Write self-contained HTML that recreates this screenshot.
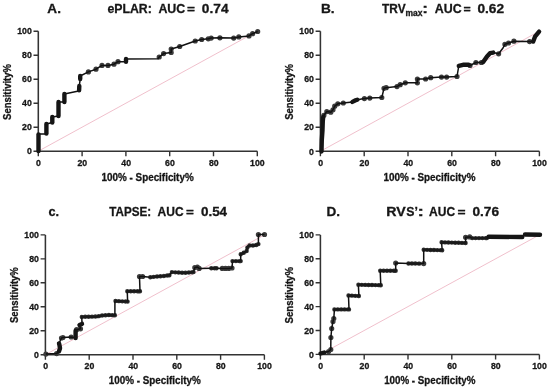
<!DOCTYPE html>
<html><head><meta charset="utf-8"><style>
html,body{margin:0;padding:0;background:#fff;width:550px;height:390px;overflow:hidden}
svg{display:block;filter:blur(0.45px)}
text{font-family:"Liberation Sans",sans-serif;font-weight:bold;fill:#161616;stroke:#161616;stroke-width:0.3px}
</style></head><body>
<svg width="550" height="390" viewBox="0 0 550 390">
<rect width="550" height="390" fill="#fff"/>

<line x1="38.3" y1="151.2" x2="257.3" y2="31.2" stroke="#eeb9c6" stroke-width="0.9"/>
<path d="M38.3 31.2 V151.2 H257.3" fill="none" stroke="#333" stroke-width="1.55"/>
<path d="M33.5 151.2 H38.3 M38.3 151.2 V156.2 M33.5 127.2 H38.3 M82.1 151.2 V156.2 M33.5 103.2 H38.3 M125.9 151.2 V156.2 M33.5 79.2 H38.3 M169.7 151.2 V156.2 M33.5 55.2 H38.3 M213.5 151.2 V156.2 M33.5 31.2 H38.3 M257.3 151.2 V156.2" fill="none" stroke="#333" stroke-width="1.4"/>
<text style="font-size:9px" transform="translate(26.9 154.4) scale(0.97 1)">0</text>
<text style="font-size:9px" transform="translate(36.07 165.8) scale(0.97 1)">0</text>
<text style="font-size:9px" transform="translate(22.05 130.4) scale(0.97 1)">20</text>
<text style="font-size:9px" transform="translate(77.47 165.8) scale(0.97 1)">20</text>
<text style="font-size:9px" transform="translate(22.05 106.4) scale(0.97 1)">40</text>
<text style="font-size:9px" transform="translate(121.36 165.8) scale(0.97 1)">40</text>
<text style="font-size:9px" transform="translate(22.05 82.4) scale(0.97 1)">60</text>
<text style="font-size:9px" transform="translate(165.07 165.8) scale(0.97 1)">60</text>
<text style="font-size:9px" transform="translate(22.05 58.4) scale(0.97 1)">80</text>
<text style="font-size:9px" transform="translate(208.89 165.8) scale(0.97 1)">80</text>
<text style="font-size:9px" transform="translate(17.2 34.4) scale(0.97 1)">100</text>
<text style="font-size:9px" transform="translate(250.11 165.8) scale(0.97 1)">100</text>
<text style="font-size:10.4px" transform="translate(101.56 180.6) scale(0.95 1)">100% - Specificity%</text>
<text style="font-size:10.4px" transform="translate(11.1 119.88) rotate(-90) scale(0.91 1)">Sensitivity%</text>
<path d="M88.4 71.9h0M96 69.2h0M102 65.4h0M108 65.4h0M114 64.2h0M118 61.7h0M159.2 57h0M163.6 53.6h0M171.2 52.5h0M171.2 49h0M179.7 46.5h0M195.2 41h0M201.7 39.5h0M208.3 38.8h0M211.2 38.1h0M219.9 37.8h0M233.7 38.1h0M238.8 36.9h0M249 35.9h0M252.6 33.7h0M257.7 31.5h0" stroke="#3c3c3c" stroke-width="5.2" stroke-linecap="round" fill="none"/>
<path d="" stroke="#333" stroke-width="4.4" stroke-linecap="round" fill="none"/>
<polyline points="38.5,151 38.5,134.5 38.5,134 45.8,134 46.4,133.5 46.4,124 52.3,122.5 52.3,117 58.5,116 58.5,102 64.4,102 64.4,94 78.6,91 79.1,90.3 79.3,86 80.2,79 80.2,76 88.4,71.9 96,69.2 102,65.4 108,65.4 114,64.2 118,61.7 126,61.8 126,59 158.1,58.8 159.2,57 163.6,53.6 171.2,52.5 171.2,49 179.7,46.5 195.2,41 201.7,39.5 208.3,38.8 211.2,38.1 219.9,37.8 233.7,38.1 238.8,36.9 249,35.9 252.6,33.7 257.7,31.5" fill="none" stroke="#111" stroke-width="1.5" stroke-linejoin="round"/>
<polyline points="38.5,151 38.5,134.5" fill="none" stroke="#151515" stroke-width="4.4" stroke-linecap="round" stroke-linejoin="round"/>
<polyline points="46.4,133.5 46.4,124" fill="none" stroke="#151515" stroke-width="4.4" stroke-linecap="round" stroke-linejoin="round"/>
<polyline points="52.3,122.5 52.3,117" fill="none" stroke="#151515" stroke-width="4.4" stroke-linecap="round" stroke-linejoin="round"/>
<polyline points="58.5,116 58.5,102" fill="none" stroke="#151515" stroke-width="4.4" stroke-linecap="round" stroke-linejoin="round"/>
<polyline points="64.4,102 64.4,94" fill="none" stroke="#151515" stroke-width="4.4" stroke-linecap="round" stroke-linejoin="round"/>
<polyline points="79.1,90.3 79.3,86" fill="none" stroke="#151515" stroke-width="4.4" stroke-linecap="round" stroke-linejoin="round"/>
<polyline points="80.2,79 80.2,76" fill="none" stroke="#151515" stroke-width="4.4" stroke-linecap="round" stroke-linejoin="round"/>
<polyline points="126,61.8 126,59" fill="none" stroke="#151515" stroke-width="4.4" stroke-linecap="round" stroke-linejoin="round"/>
<line x1="320.4" y1="151.3" x2="539.4" y2="31.2" stroke="#eeb9c6" stroke-width="0.9"/>
<path d="M320.4 31.2 V151.3 H539.4" fill="none" stroke="#333" stroke-width="1.55"/>
<path d="M315.6 151.3 H320.4 M320.4 151.3 V156.3 M315.6 127.28 H320.4 M364.2 151.3 V156.3 M315.6 103.26 H320.4 M408 151.3 V156.3 M315.6 79.24 H320.4 M451.8 151.3 V156.3 M315.6 55.22 H320.4 M495.6 151.3 V156.3 M315.6 31.2 H320.4 M539.4 151.3 V156.3" fill="none" stroke="#333" stroke-width="1.4"/>
<text style="font-size:9px" transform="translate(309 154.5) scale(0.97 1)">0</text>
<text style="font-size:9px" transform="translate(318.17 165.9) scale(0.97 1)">0</text>
<text style="font-size:9px" transform="translate(304.15 130.48) scale(0.97 1)">20</text>
<text style="font-size:9px" transform="translate(359.57 165.9) scale(0.97 1)">20</text>
<text style="font-size:9px" transform="translate(304.15 106.46) scale(0.97 1)">40</text>
<text style="font-size:9px" transform="translate(403.46 165.9) scale(0.97 1)">40</text>
<text style="font-size:9px" transform="translate(304.15 82.44) scale(0.97 1)">60</text>
<text style="font-size:9px" transform="translate(447.17 165.9) scale(0.97 1)">60</text>
<text style="font-size:9px" transform="translate(304.15 58.42) scale(0.97 1)">80</text>
<text style="font-size:9px" transform="translate(490.99 165.9) scale(0.97 1)">80</text>
<text style="font-size:9px" transform="translate(299.3 34.4) scale(0.97 1)">100</text>
<text style="font-size:9px" transform="translate(532.21 165.9) scale(0.97 1)">100</text>
<text style="font-size:10.4px" transform="translate(383.45 180.8) scale(0.95 1)">100% - Specificity%</text>
<text style="font-size:10.4px" transform="translate(293.1 119.78) rotate(-90) scale(0.91 1)">Sensitivity%</text>
<path d="M323.9 115.3h0M326.8 111.6h0M330.8 112.2h0M333 109.8h0M334.7 106.2h0M337.8 103.8h0M343.3 103h0M364.4 98.6h0M369.8 98.1h0M381.8 97.5h0M384 88.3h0M386.2 87.7h0M397 86.6h0M400.2 84.7h0M405.3 82.8h0M417.4 82.8h0M417.4 79h0M425.6 79h0M430.7 77.7h0M441.5 77.1h0M446.6 77.1h0M457 76.5h0M470 65.5h0M475.9 62.5h0M481.4 62.5h0M498.6 53.8h0M504.9 44.3h0M508.5 43h0M513.9 41.2h0M529.6 41.6h0" stroke="#3c3c3c" stroke-width="5.2" stroke-linecap="round" fill="none"/>
<path d="" stroke="#333" stroke-width="4.4" stroke-linecap="round" fill="none"/>
<polyline points="321.5,151.5 321.8,140 322.5,130 322.8,121 323.2,117 323.9,115.3 326.8,111.6 330.8,112.2 333,109.8 334.7,106.2 337.8,103.8 343.3,103 352.4,101.9 355.6,100.3 357.3,99.7 364.4,98.6 369.8,98.1 381.8,97.5 384,88.3 386.2,87.7 397,86.6 400.2,84.7 405.3,82.8 417.4,82.8 417.4,79 425.6,79 430.7,77.7 441.5,77.1 446.6,77.1 457,76.5 458.6,67 458.8,65.9 463,64.8 468.6,64.8 470,65.5 475.9,62.5 481.4,62.5 483.2,62 487,56.5 490,53.2 493.2,52.6 498.6,53.8 503,48 504.9,44.3 508.5,43 513.9,41.2 529.6,41.6 533.2,41.6 535,36.7 539.1,31.7" fill="none" stroke="#111" stroke-width="1.5" stroke-linejoin="round"/>
<polyline points="321.5,151.5 321.8,140 322.5,130 322.8,121 323.2,117" fill="none" stroke="#151515" stroke-width="4.4" stroke-linecap="round" stroke-linejoin="round"/>
<polyline points="352.4,101.9 355.6,100.3 357.3,99.7" fill="none" stroke="#151515" stroke-width="4.4" stroke-linecap="round" stroke-linejoin="round"/>
<polyline points="458.8,65.9 463,64.8 468.6,64.8" fill="none" stroke="#151515" stroke-width="4.4" stroke-linecap="round" stroke-linejoin="round"/>
<polyline points="483.2,62 487,56.5 490,53.2 493.2,52.6" fill="none" stroke="#151515" stroke-width="4.4" stroke-linecap="round" stroke-linejoin="round"/>
<polyline points="533.2,41.6 535,36.7 539.1,31.7" fill="none" stroke="#151515" stroke-width="4.4" stroke-linecap="round" stroke-linejoin="round"/>
<line x1="45.4" y1="354.7" x2="264.4" y2="234.9" stroke="#eeb9c6" stroke-width="0.9"/>
<path d="M45.4 234.9 V354.7 H264.4" fill="none" stroke="#333" stroke-width="1.55"/>
<path d="M40.6 354.7 H45.4 M45.4 354.7 V359.7 M40.6 330.74 H45.4 M89.2 354.7 V359.7 M40.6 306.78 H45.4 M133 354.7 V359.7 M40.6 282.82 H45.4 M176.8 354.7 V359.7 M40.6 258.86 H45.4 M220.6 354.7 V359.7 M40.6 234.9 H45.4 M264.4 354.7 V359.7" fill="none" stroke="#333" stroke-width="1.4"/>
<text style="font-size:9px" transform="translate(34 357.9) scale(0.97 1)">0</text>
<text style="font-size:9px" transform="translate(43.17 369.3) scale(0.97 1)">0</text>
<text style="font-size:9px" transform="translate(29.15 333.94) scale(0.97 1)">20</text>
<text style="font-size:9px" transform="translate(84.57 369.3) scale(0.97 1)">20</text>
<text style="font-size:9px" transform="translate(29.15 309.98) scale(0.97 1)">40</text>
<text style="font-size:9px" transform="translate(128.46 369.3) scale(0.97 1)">40</text>
<text style="font-size:9px" transform="translate(29.15 286.02) scale(0.97 1)">60</text>
<text style="font-size:9px" transform="translate(172.17 369.3) scale(0.97 1)">60</text>
<text style="font-size:9px" transform="translate(29.15 262.06) scale(0.97 1)">80</text>
<text style="font-size:9px" transform="translate(215.99 369.3) scale(0.97 1)">80</text>
<text style="font-size:9px" transform="translate(24.3 238.1) scale(0.97 1)">100</text>
<text style="font-size:9px" transform="translate(257.21 369.3) scale(0.97 1)">100</text>
<text style="font-size:10.4px" transform="translate(108.76 384.2) scale(0.95 1)">100% - Specificity%</text>
<text style="font-size:10.4px" transform="translate(18 322.98) rotate(-90) scale(0.91 1)">Sensitivity%</text>
<path d="M45.9 354.1h0M56.6 353.6h0M61.5 338h0M62.9 337.5h0M71.2 337h0M76.6 329.7h0M80.5 328.8h0M139.5 276.5h0M142.6 276.5h0M194.8 267.6h0M197.4 267h0M199.1 268.4h0M222.3 268.4h0M225.5 268.4h0M228.7 268.4h0M232 268h0M258.4 234.5h0M264.5 234.5h0" stroke="#3c3c3c" stroke-width="5.2" stroke-linecap="round" fill="none"/>
<path d="M81.8 316.9h0M85.2 316.82h0M88.6 316.74h0M92 316.65h0M95.4 316.55h0M98.76 316.16h0M102.1 315.55h0M105.49 315.29h0M108.88 315.02h0M112.28 315.16h0M114.9 315.3h0M115.5 301h0M118.9 301.17h0M122.29 301.34h0M125.69 301.51h0M127.6 301.6h0M127.3 291.3h0M130.7 291.3h0M134.1 291.3h0M137.5 291.3h0M140 291.3h0M150.3 277.2h0M153.68 276.86h0M157.07 276.52h0M160.45 276.23h0M163.84 275.94h0M167.22 275.56h0M169.4 275.3h0M171.9 272.1h0M175.29 272.33h0M178.68 272.56h0M182.08 272.7h0M185.48 272.7h0M188.87 272.54h0M192.26 272.22h0M193.5 272.1h0M211.3 268.3h0M214.7 268.3h0M216.5 268.3h0M232.5 261.1h0M235.9 261.1h0M239.3 261.1h0M240.7 261.1h0M240.7 254.3h0M243.74 252.79h0M246.64 251h0M247.34 247.74h0M249.56 245.5h0M252.96 245.5h0M256.26 244.98h0M258.4 244.1h0" stroke="#333" stroke-width="4.4" stroke-linecap="round" fill="none"/>
<polyline points="45.9,354.1 56.6,353.6 59,351.2 60,348.2 59.5,345.3 59,343.4 61.5,338 62.9,337.5 71.2,337 75.6,338 75.6,330.7 76.6,329.7 80.5,328.8 79.5,325 82,323.9 81.8,317.5 81.8,316.9 90.1,316.7 97.1,316.5 101.5,315.6 109.2,315 114.9,315.3 114.9,301.5 115.5,301 127.6,301.6 127.3,291.8 127.3,291.3 140,291.3 139.5,277 139.5,276.5 142.6,276.5 150.3,277.2 157.3,276.5 164.3,275.9 169.4,275.3 171.9,272.1 171.9,272.1 180.8,272.7 187.2,272.7 193.5,272.1 194.8,267.6 197.4,267 199.1,268.4 211.3,268.3 216.5,268.3 222.3,268.4 225.5,268.4 228.7,268.4 232,268 232.5,261.6 232.5,261.1 240.7,261.1 240.7,254.8 240.7,254.3 243.4,253 246.8,250.9 247.5,246.8 249.5,245.5 255,245.5 258.4,244.1 258.4,235 258.4,234.5 264.5,234.5" fill="none" stroke="#111" stroke-width="1.5" stroke-linejoin="round"/>
<polyline points="81.8,316.9 90.1,316.7 97.1,316.5 101.5,315.6 109.2,315 114.9,315.3" fill="none" stroke="#1a1a1a" stroke-width="2.4" stroke-linecap="round" stroke-linejoin="round"/>
<polyline points="115.5,301 127.6,301.6" fill="none" stroke="#1a1a1a" stroke-width="2.4" stroke-linecap="round" stroke-linejoin="round"/>
<polyline points="127.3,291.3 140,291.3" fill="none" stroke="#1a1a1a" stroke-width="2.4" stroke-linecap="round" stroke-linejoin="round"/>
<polyline points="150.3,277.2 157.3,276.5 164.3,275.9 169.4,275.3" fill="none" stroke="#1a1a1a" stroke-width="2.4" stroke-linecap="round" stroke-linejoin="round"/>
<polyline points="171.9,272.1 180.8,272.7 187.2,272.7 193.5,272.1" fill="none" stroke="#1a1a1a" stroke-width="2.4" stroke-linecap="round" stroke-linejoin="round"/>
<polyline points="211.3,268.3 216.5,268.3" fill="none" stroke="#1a1a1a" stroke-width="2.4" stroke-linecap="round" stroke-linejoin="round"/>
<polyline points="232.5,261.1 240.7,261.1" fill="none" stroke="#1a1a1a" stroke-width="2.4" stroke-linecap="round" stroke-linejoin="round"/>
<polyline points="240.7,254.3 243.4,253 246.8,250.9 247.5,246.8 249.5,245.5 255,245.5 258.4,244.1" fill="none" stroke="#1a1a1a" stroke-width="2.4" stroke-linecap="round" stroke-linejoin="round"/>
<polyline points="59,351.2 60,348.2 59.5,345.3 59,343.4" fill="none" stroke="#151515" stroke-width="4.4" stroke-linecap="round" stroke-linejoin="round"/>
<polyline points="75.6,338 75.6,330.7" fill="none" stroke="#151515" stroke-width="4.4" stroke-linecap="round" stroke-linejoin="round"/>
<polyline points="79.5,325 82,323.9" fill="none" stroke="#151515" stroke-width="4.4" stroke-linecap="round" stroke-linejoin="round"/>
<line x1="320.4" y1="354.4" x2="539.4" y2="234.9" stroke="#eeb9c6" stroke-width="0.9"/>
<path d="M320.4 234.9 V354.4 H539.4" fill="none" stroke="#333" stroke-width="1.55"/>
<path d="M315.6 354.4 H320.4 M320.4 354.4 V359.4 M315.6 330.5 H320.4 M364.2 354.4 V359.4 M315.6 306.6 H320.4 M408 354.4 V359.4 M315.6 282.7 H320.4 M451.8 354.4 V359.4 M315.6 258.8 H320.4 M495.6 354.4 V359.4 M315.6 234.9 H320.4 M539.4 354.4 V359.4" fill="none" stroke="#333" stroke-width="1.4"/>
<text style="font-size:9px" transform="translate(309 357.6) scale(0.97 1)">0</text>
<text style="font-size:9px" transform="translate(318.17 369) scale(0.97 1)">0</text>
<text style="font-size:9px" transform="translate(304.15 333.7) scale(0.97 1)">20</text>
<text style="font-size:9px" transform="translate(359.57 369) scale(0.97 1)">20</text>
<text style="font-size:9px" transform="translate(304.15 309.8) scale(0.97 1)">40</text>
<text style="font-size:9px" transform="translate(403.46 369) scale(0.97 1)">40</text>
<text style="font-size:9px" transform="translate(304.15 285.9) scale(0.97 1)">60</text>
<text style="font-size:9px" transform="translate(447.17 369) scale(0.97 1)">60</text>
<text style="font-size:9px" transform="translate(304.15 262) scale(0.97 1)">80</text>
<text style="font-size:9px" transform="translate(490.99 369) scale(0.97 1)">80</text>
<text style="font-size:9px" transform="translate(299.3 238.1) scale(0.97 1)">100</text>
<text style="font-size:9px" transform="translate(532.21 369) scale(0.97 1)">100</text>
<text style="font-size:10.4px" transform="translate(384.16 384.3) scale(0.94 1)">100% - Specificity%</text>
<text style="font-size:10.4px" transform="translate(293 323.39) rotate(-90) scale(0.92 1)">Sensitivity%</text>
<path d="M328.6 351.5h0M330.8 349.5h0M330.9 337.5h0M331.7 328.5h0M333 321.5h0M333.8 318.5h0M395.7 263h0M423.7 263.6h0M465.6 237.3h0M469.7 236.9h0" stroke="#3c3c3c" stroke-width="5.2" stroke-linecap="round" fill="none"/>
<path d="M334.4 309.4h0M337.8 309.4h0M341.2 309.4h0M344.6 309.4h0M348 309.4h0M349 309.4h0M348.5 295.5h0M351.9 295.66h0M355.29 295.83h0M358.69 295.99h0M358.9 296h0M358.4 284.8h0M361.8 284.86h0M365.2 284.92h0M368.6 284.98h0M372 285.04h0M375.4 285.1h0M378.8 285.16h0M380.8 285.2h0M380.2 270.8h0M383.6 270.8h0M387 270.8h0M390.4 270.8h0M393.8 270.8h0M395.7 270.8h0M408.5 263.5h0M411.9 263.53h0M415.3 263.56h0M418.7 263.59h0M419.5 263.6h0M423.7 249.8h0M427.1 249.87h0M430.5 249.95h0M433.9 250.02h0M437.3 250.09h0M440.7 250.17h0M442.2 250.2h0M441.6 242.3h0M445 242.4h0M448.4 242.5h0M451.8 242.6h0M455.19 242.7h0M458.59 242.8h0M461.99 242.89h0M465.39 242.99h0M465.6 243h0M472.2 238.1h0M475.6 238.1h0M479 238.1h0M482.4 238.1h0M485.8 238.1h0M486.9 238.1h0" stroke="#333" stroke-width="4.4" stroke-linecap="round" fill="none"/>
<polyline points="320.5,353.5 324.2,352.5 328.6,351.5 330.8,349.5 330.8,345 330.9,337.5 331.7,328.5 333,321.5 333.8,318.5 334.4,309.9 334.4,309.4 349,309.4 348.5,296 348.5,295.5 358.9,296 358.4,285.3 358.4,284.8 380.8,285.2 380.2,271.3 380.2,270.8 395.7,270.8 395.7,263 408.5,263.5 408.5,263.5 419.5,263.6 423.7,263.6 423.7,250.3 423.7,249.8 442.2,250.2 441.6,242.8 441.6,242.3 465.6,243 465.6,237.3 469.7,236.9 472.2,238.1 486.9,238.1 488.6,236.8 522.3,237 525,234.5 540,234.7" fill="none" stroke="#111" stroke-width="1.5" stroke-linejoin="round"/>
<polyline points="334.4,309.4 349,309.4" fill="none" stroke="#1a1a1a" stroke-width="2.4" stroke-linecap="round" stroke-linejoin="round"/>
<polyline points="348.5,295.5 358.9,296" fill="none" stroke="#1a1a1a" stroke-width="2.4" stroke-linecap="round" stroke-linejoin="round"/>
<polyline points="358.4,284.8 380.8,285.2" fill="none" stroke="#1a1a1a" stroke-width="2.4" stroke-linecap="round" stroke-linejoin="round"/>
<polyline points="380.2,270.8 395.7,270.8" fill="none" stroke="#1a1a1a" stroke-width="2.4" stroke-linecap="round" stroke-linejoin="round"/>
<polyline points="408.5,263.5 419.5,263.6" fill="none" stroke="#1a1a1a" stroke-width="2.4" stroke-linecap="round" stroke-linejoin="round"/>
<polyline points="423.7,249.8 442.2,250.2" fill="none" stroke="#1a1a1a" stroke-width="2.4" stroke-linecap="round" stroke-linejoin="round"/>
<polyline points="441.6,242.3 465.6,243" fill="none" stroke="#1a1a1a" stroke-width="2.4" stroke-linecap="round" stroke-linejoin="round"/>
<polyline points="472.2,238.1 486.9,238.1" fill="none" stroke="#1a1a1a" stroke-width="2.4" stroke-linecap="round" stroke-linejoin="round"/>
<polyline points="320.5,353.5 324.2,352.5" fill="none" stroke="#151515" stroke-width="4.4" stroke-linecap="round" stroke-linejoin="round"/>
<polyline points="488.6,236.8 522.3,237" fill="none" stroke="#151515" stroke-width="4.4" stroke-linecap="round" stroke-linejoin="round"/>
<polyline points="525,234.5 540,234.7" fill="none" stroke="#151515" stroke-width="4.4" stroke-linecap="round" stroke-linejoin="round"/>
<g style="stroke:#111;stroke-width:0.35px;fill:#111">
<text style="font-size:12.8px" transform="translate(47.36 13) scale(1.06 1)">A.</text>
<text style="font-size:12.8px" transform="translate(107.41 13) scale(0.96 1)">ePLAR:</text>
<text style="font-size:12.8px" transform="translate(158.39 13) scale(0.97 1)">AUC</text>
<text style="font-size:11.6px" transform="translate(186.95 12.7) scale(1.18 1)">=</text>
<text style="font-size:12.8px" transform="translate(201.85 13) scale(1.07 1)">0.74</text>
<text style="font-size:12.8px" transform="translate(320.91 13) scale(1.07 1)">B.</text>
<text style="font-size:12.8px" transform="translate(381.98 12.6) scale(0.93 1)">TRV</text>
<text style="font-size:8.4px" transform="translate(405.55 15.6) scale(1.01 1)">max</text>
<text style="font-size:12.8px" transform="translate(422.27 13) scale(1.34 1)">:</text>
<text style="font-size:12.8px" transform="translate(434.79 13) scale(0.97 1)">AUC</text>
<text style="font-size:11.6px" transform="translate(463.51 12.7) scale(1.06 1)">=</text>
<text style="font-size:12.8px" transform="translate(477.45 13) scale(1.07 1)">0.62</text>
<text style="font-size:12.8px" transform="translate(48.49 216.2) scale(0.99 1)">c.</text>
<text style="font-size:12.8px" transform="translate(109.28 216.2) scale(0.91 1)">TAPSE:</text>
<text style="font-size:12.8px" transform="translate(157.6 216.2) scale(0.94 1)">AUC</text>
<text style="font-size:11.6px" transform="translate(185.96 215.9) scale(1.16 1)">=</text>
<text style="font-size:12.8px" transform="translate(200.96 216.2) scale(1.05 1)">0.54</text>
<text style="font-size:12.8px" transform="translate(326.42 216.2) scale(1.06 1)">D.</text>
<text style="font-size:12.8px" transform="translate(386.18 216.2) scale(1.11 1)">RV</text>
<text style="font-size:12.8px" transform="translate(406.33 216.2) scale(0.96 1)">S’</text>
<text style="font-size:12.8px" transform="translate(417.47 216.2) scale(1.51 1)">:</text>
<text style="font-size:12.8px" transform="translate(429.1 216.2) scale(0.94 1)">AUC</text>
<text style="font-size:11.6px" transform="translate(457.45 215.9) scale(1.19 1)">=</text>
<text style="font-size:12.8px" transform="translate(472.45 216.2) scale(1.07 1)">0.76</text>
</g>
</svg></body></html>
